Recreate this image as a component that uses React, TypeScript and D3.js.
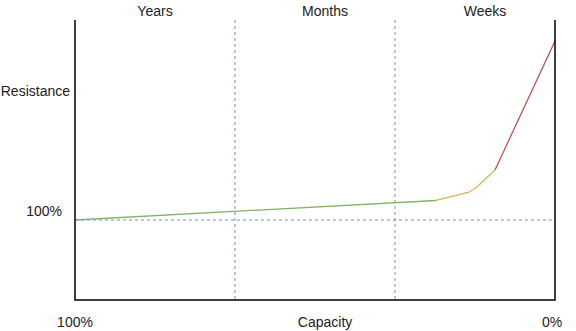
import React from "react";
import * as d3 from "d3";

const greenCapacity = [100, 24.8];
const greenResistance = [100, 124.4];
const yellowCapacity = [24.8, 18.1, 16.5, 12.5];
const yellowResistance = [124.4, 134.4, 140, 162.5];
const redCapacity = [12.5, 0];
const redResistance = [162.5, 323.75];
const phaseBoundaries = [66.67, 33.33];
const phaseLabels = ["Years", "Months", "Weeks"];
const phaseCenters = [83.33, 47.9, 14.58];
const referenceResistance = 100;

export default function App() {
  const W = 576, H = 331;
  const x = d3.scaleLinear().domain([100, 0]).range([75, 555]);
  const y = d3.scaleLinear().domain([0, 350]).range([300, 20]);
  const line = d3.line<[number, number]>().x(d => x(d[0])).y(d => y(d[1]));
  const zip = (a: number[], b: number[]) => a.map((v, i) => [v, b[i]] as [number, number]);
  const font = "Liberation Sans, Arial, Helvetica, sans-serif";
  const fs = 14;
  const tc = "#222";
  return (
    <svg width={W} height={H} style={{ position: "absolute", left: 0, top: 0 }}>
      <rect width={W} height={H} fill="#fff" />
      {phaseBoundaries.map((b, i) => (
        <line key={i} x1={x(b)} x2={x(b)} y1={20} y2={300} stroke="#7d8fb0" strokeDasharray="3 3" strokeWidth={1} />
      ))}
      <line x1={x(100)} x2={x(0) - 2} y1={y(referenceResistance)} y2={y(referenceResistance)} stroke="#6c8ebf" strokeDasharray="3 3" strokeWidth={1} />
      <path d={line(zip(greenCapacity, greenResistance)) || ""} fill="none" stroke="#82b366" strokeWidth={1.3} />
      <path d={line(zip(yellowCapacity, yellowResistance)) || ""} fill="none" stroke="#d6b656" strokeWidth={1.3} strokeLinejoin="round" />
      <path d={line(zip(redCapacity, redResistance)) || ""} fill="none" stroke="#b85450" strokeWidth={1.3} />
      <path d={`M${x(100)},20V300H${x(0)}V20`} fill="none" stroke="#000" strokeWidth={1.5} />
      <g fontFamily={font} fontSize={fs} fill={tc}>
        {phaseLabels.map((l, i) => (
          <text key={l} x={x(phaseCenters[i])} y={16} textAnchor="middle">{l}</text>
        ))}
        <text x={70} y={96} textAnchor="end">Resistance</text>
        <text x={62} y={216} textAnchor="end">{`${referenceResistance}%`}</text>
        <text x={x(100)} y={327} textAnchor="middle">100%</text>
        <text x={x(47.9)} y={327} textAnchor="middle">Capacity</text>
        <text x={x(0) - 3} y={327} textAnchor="middle">0%</text>
      </g>
    </svg>
  );
}
